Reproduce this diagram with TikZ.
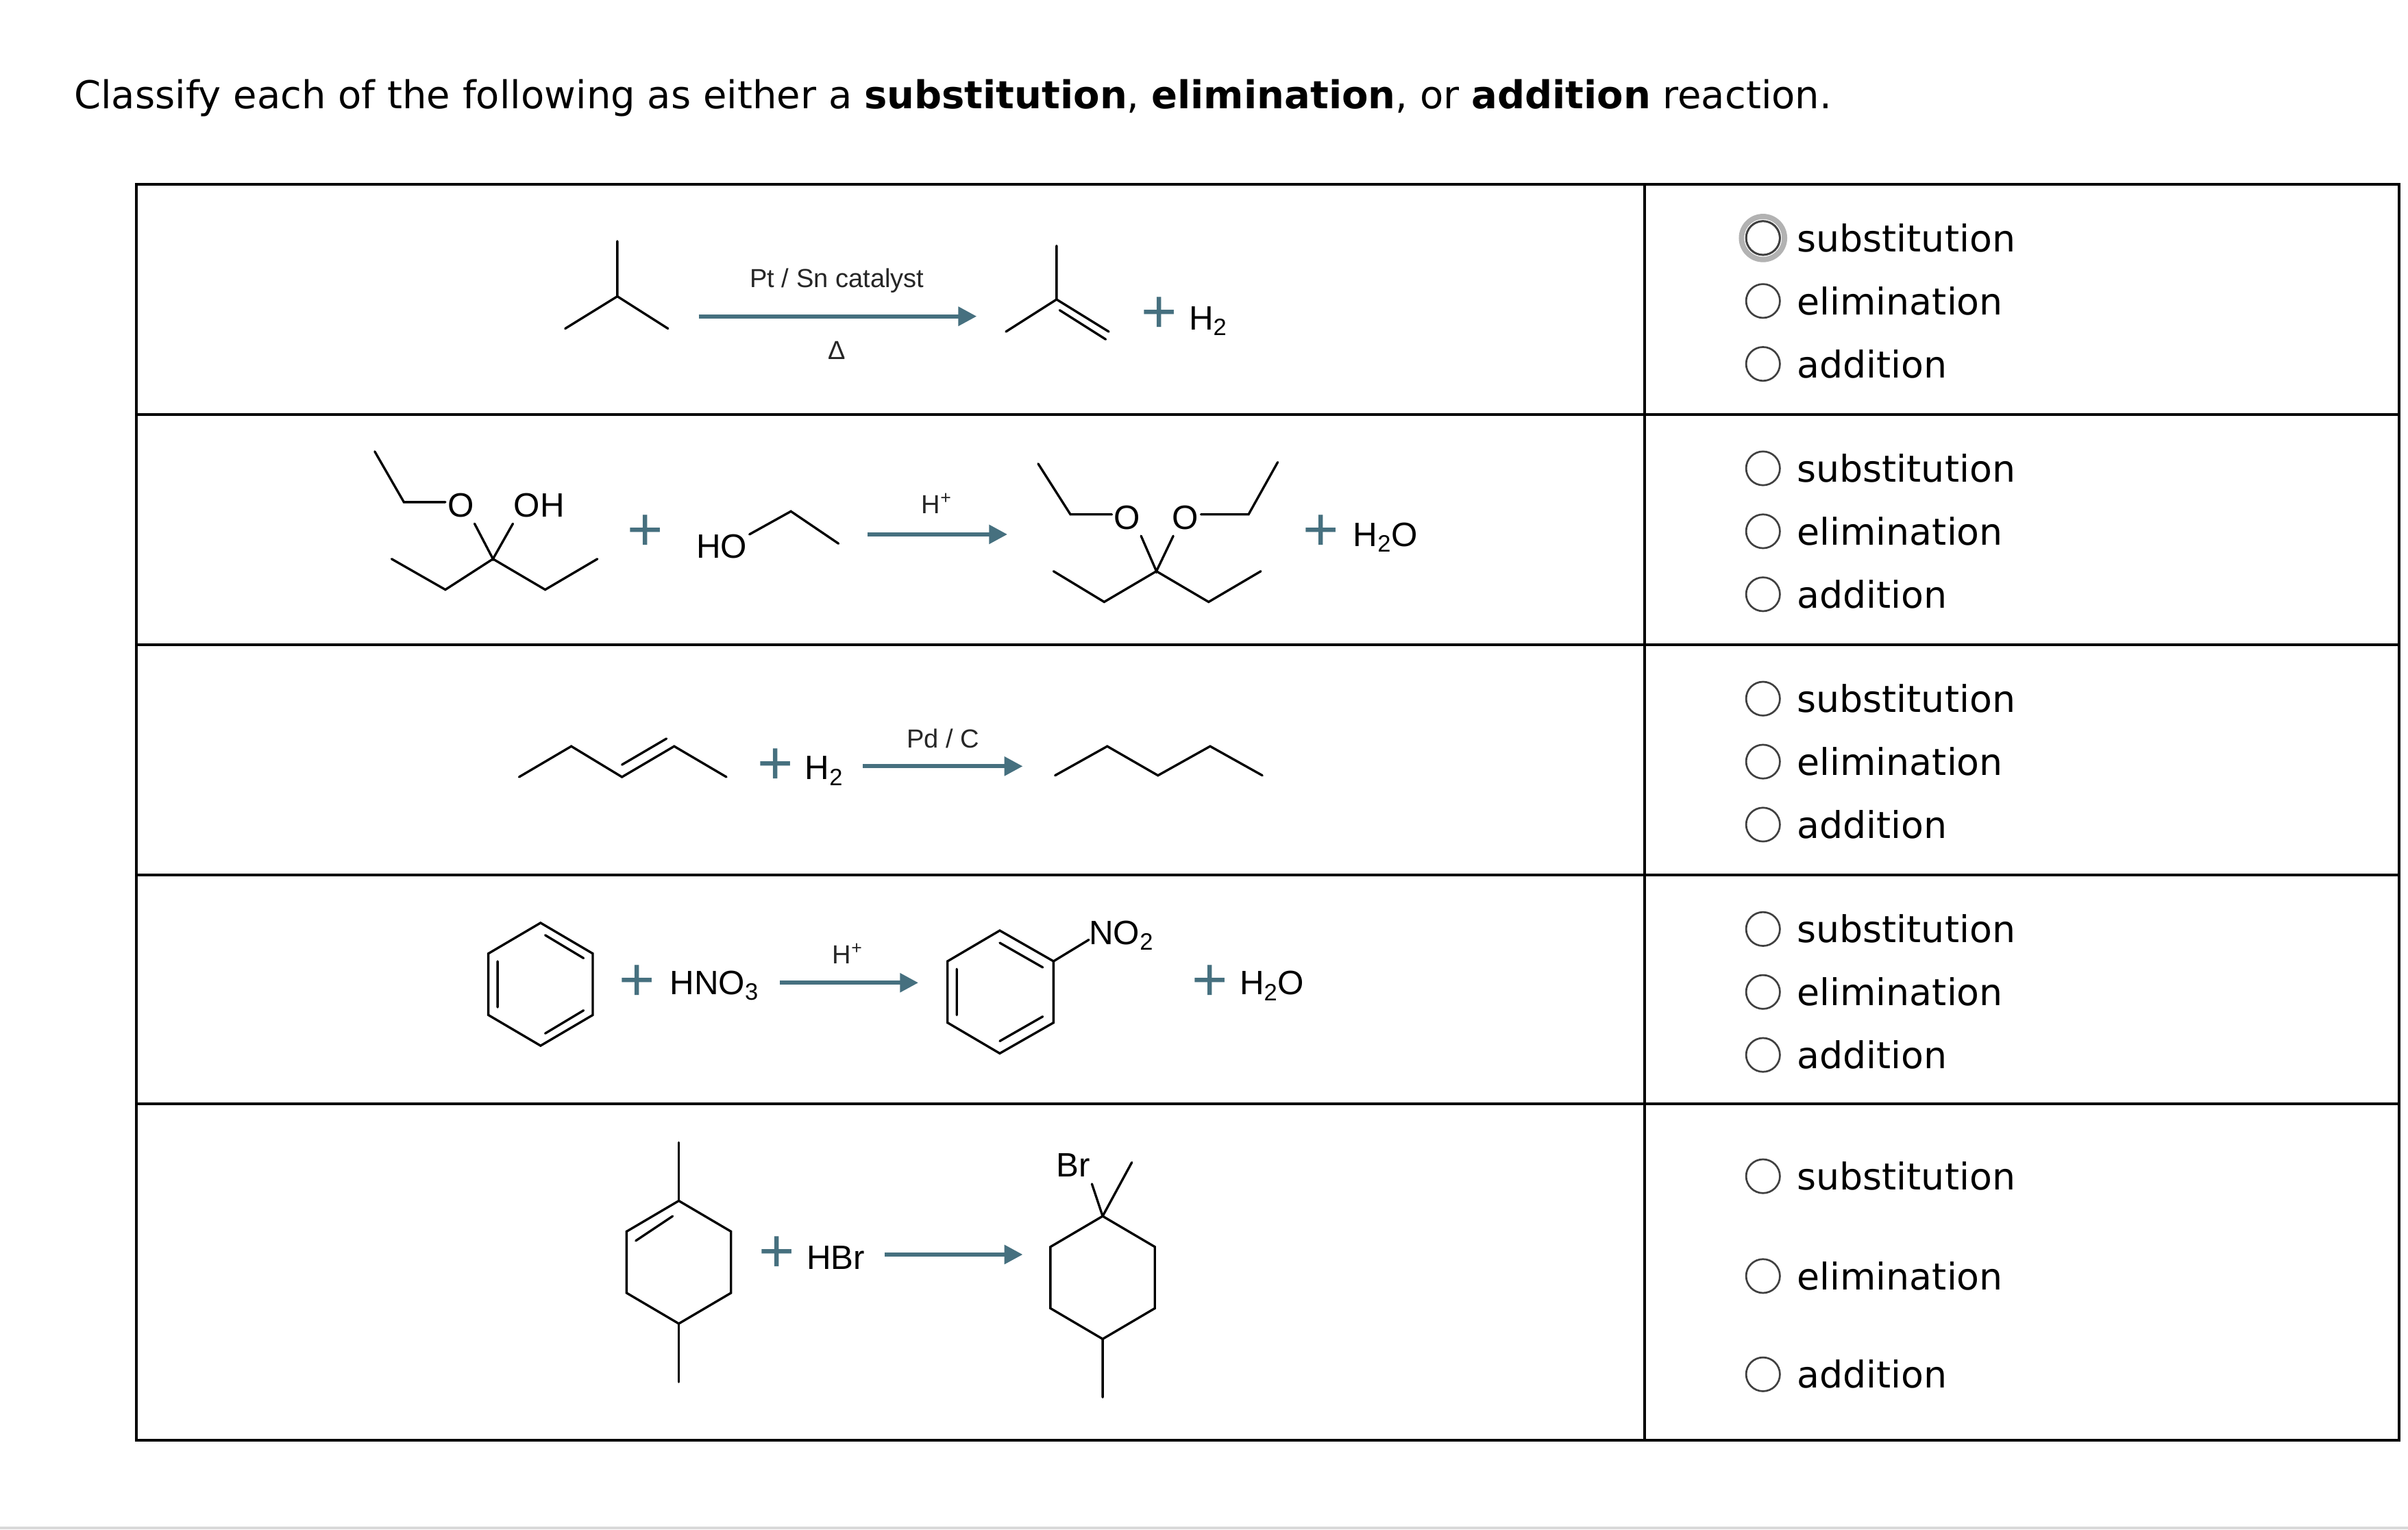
\documentclass[tikz,border=0pt]{standalone}
\usepackage{fontspec}
\setmainfont{DejaVu Sans}
\newfontfamily\chem{Liberation Sans}
\usetikzlibrary{arrows.meta}
\definecolor{teal}{HTML}{46707F}
\newcommand{\sbs}[1]{\textsubscript{#1}}
\tikzset{
 bond/.style={line width=1.5pt,black,line cap=round,line join=miter},
 rxn/.style={line width=2.8pt,teal,-{Triangle[length=12pt,width=12pt]}},
 lbl/.style={font=\chem\fontsize{22}{22}\selectfont,inner sep=0pt},
 cond/.style={font=\chem\fontsize{17}{17}\selectfont,inner sep=0pt,text=black!85},
 plus/.style={font=\chem\fontsize{40}{40}\selectfont,inner sep=0pt,text=teal},
 radio/.style={draw=black!75,line width=1.2pt,circle,minimum size=22pt,inner sep=0pt},
 opt/.style={font=\fontsize{24}{24}\selectfont,anchor=west,inner sep=0pt},
 grid/.style={line width=1.8pt,black}
}
\begin{document}
\begin{tikzpicture}[x=1pt,y=-1pt]
\useasboundingbox (0,0) rectangle (1568,996);
\fill[white] (0,0) rectangle (1568,996);
\draw[black!15,line width=2pt] (0,995) -- (1568,995);
\node[anchor=west,inner sep=0pt,font=\fontsize{25}{25}\selectfont] (title) at (48,64)
 {Classify each of the following as either a \textbf{substitution}, \textbf{elimination}, or \textbf{addition} reaction.};
% table
\draw[grid] (89,120) rectangle (1562,938);
\draw[grid] (1071,120) -- (1071,938);
\foreach \y in {270,420,570,719} \draw[grid] (89,\y) -- (1562,\y);
% radios
\foreach \y/\t [count=\i] in {155/substitution,196/elimination,237/addition,305/substitution,346/elimination,387/addition,455/substitution,496/elimination,537/addition,605/substitution,646/elimination,687/addition,766/substitution,831/elimination,895/addition}{
 \node[radio] (r\i) at (1148,\y) {};
 \node[opt] (t\i) at (1170,\y) {\t};
}
\draw[black!30,line width=3.5pt] (1148,155) circle (14);
\draw[black!75,line width=1.2pt] (1148,155) circle (11);
% ---- row 1
\draw[bond] (402,157) -- (402,193) (368,214) -- (402,193) -- (435,214);
\coordinate (a1s) at (455,206); \coordinate (a1e) at (636,206);
\draw[rxn] (a1s) -- (a1e);
\node[cond] (c1) at (545,183) {Pt / Sn catalyst};
\node[cond] (c1b) at (545,228) {Δ};
\draw[bond] (688,160) -- (688,195) (655,216) -- (688,195) -- (722,216);
\draw[bond] (690,202) -- (720,221);
\node[plus] (p1) at (755,205) {+};
\node[lbl,anchor=west] (h1) at (774,209) {H\sbs{2}};
% ---- row 2
\node[lbl] (o1) at (300,329) {O};
\node[lbl] (oh1) at (351,329) {OH};
\draw[bond] (244,294) -- (263,327) -- (290,327);
\draw[bond] (309,341) -- (321,364) -- (334,341);
\draw[bond] (255,364) -- (290,384) -- (321,364) -- (355,384) -- (389,364);
\node[plus] (p2) at (420,347) {+};
\node[lbl] (ho) at (470,356) {HO};
\draw[bond] (488,348) -- (515,333) -- (546,354);
\coordinate (a2s) at (565,348); \coordinate (a2e) at (656,348);
\draw[rxn] (a2s) -- (a2e);
\node[cond] (c2) at (610,328) {H\textsuperscript{+}};
\node[lbl] (o2) at (734,337) {O};
\node[lbl] (o3) at (772,337) {O};
\draw[bond] (676,302) -- (697,335) -- (724,335);
\draw[bond] (782,335) -- (813,335) -- (832,301);
\draw[bond] (743,349) -- (753,372) -- (764,349);
\draw[bond] (686,372) -- (719,392) -- (753,372) -- (787,392) -- (821,372);
\node[plus] (p3) at (860,347) {+};
\node[lbl,anchor=west] (w1) at (881,350) {H\sbs{2}O};
% ---- row 3
\draw[bond] (338,506) -- (372,486) -- (405,506) -- (439,486) -- (473,506);
\draw[bond] (405,498) -- (434,481);
\node[plus] (p4) at (505,499) {+};
\node[lbl,anchor=west] (h2) at (524,502) {H\sbs{2}};
\coordinate (a3s) at (562,499); \coordinate (a3e) at (666,499);
\draw[rxn] (a3s) -- (a3e);
\node[cond] (c3) at (614,481) {Pd / C};
\draw[bond] (687,505) -- (721,486) -- (754,505) -- (788,486) -- (822,505);
% ---- row 4
\draw[bond] (352,601) -- (386,621) -- (386,661) -- (352,681) -- (318,661) -- (318,621) -- cycle;
\draw[bond] (355,609) -- (380,624) (324,626) -- (324,656) (355,673) -- (380,658);
\node[plus] (p5) at (415,640) {+};
\node[lbl,anchor=west] (hno) at (436,642) {HNO\sbs{3}};
\coordinate (a4s) at (508,640); \coordinate (a4e) at (598,640);
\draw[rxn] (a4s) -- (a4e);
\node[cond] (c4) at (552,621) {H\textsuperscript{+}};
\draw[bond] (651,606) -- (686,626) -- (686,666) -- (651,686) -- (617,666) -- (617,626) -- cycle;
\draw[bond] (651,614) -- (679,630) (623,631) -- (623,661) (651,678) -- (679,662);
\draw[bond] (686,626) -- (709,612);
\node[lbl,anchor=west] (no2) at (709,609) {NO\sbs{2}};
\node[plus] (p6) at (788,640) {+};
\node[lbl,anchor=west] (w2) at (807,642) {H\sbs{2}O};
% ---- row 5
\draw[bond] (442,782) -- (476,802) -- (476,842) -- (442,862) -- (408,842) -- (408,802) -- cycle;
\draw[bond] (442,782) -- (442,744) (442,862) -- (442,900);
\draw[bond] (414,808) -- (438,792);
\node[plus] (p7) at (506,817) {+};
\node[lbl,anchor=west] (hbr) at (525,819) {HBr};
\coordinate (a5s) at (576,817); \coordinate (a5e) at (666,817);
\draw[rxn] (a5s) -- (a5e);
\draw[bond] (718,792) -- (752,812) -- (752,852) -- (718,872) -- (684,852) -- (684,812) -- cycle;
\draw[bond] (718,872) -- (718,910) (718,792) -- (737,757) (718,792) -- (711,771);
\node[lbl] (br) at (699,759) {Br};
\end{tikzpicture}
\end{document}
